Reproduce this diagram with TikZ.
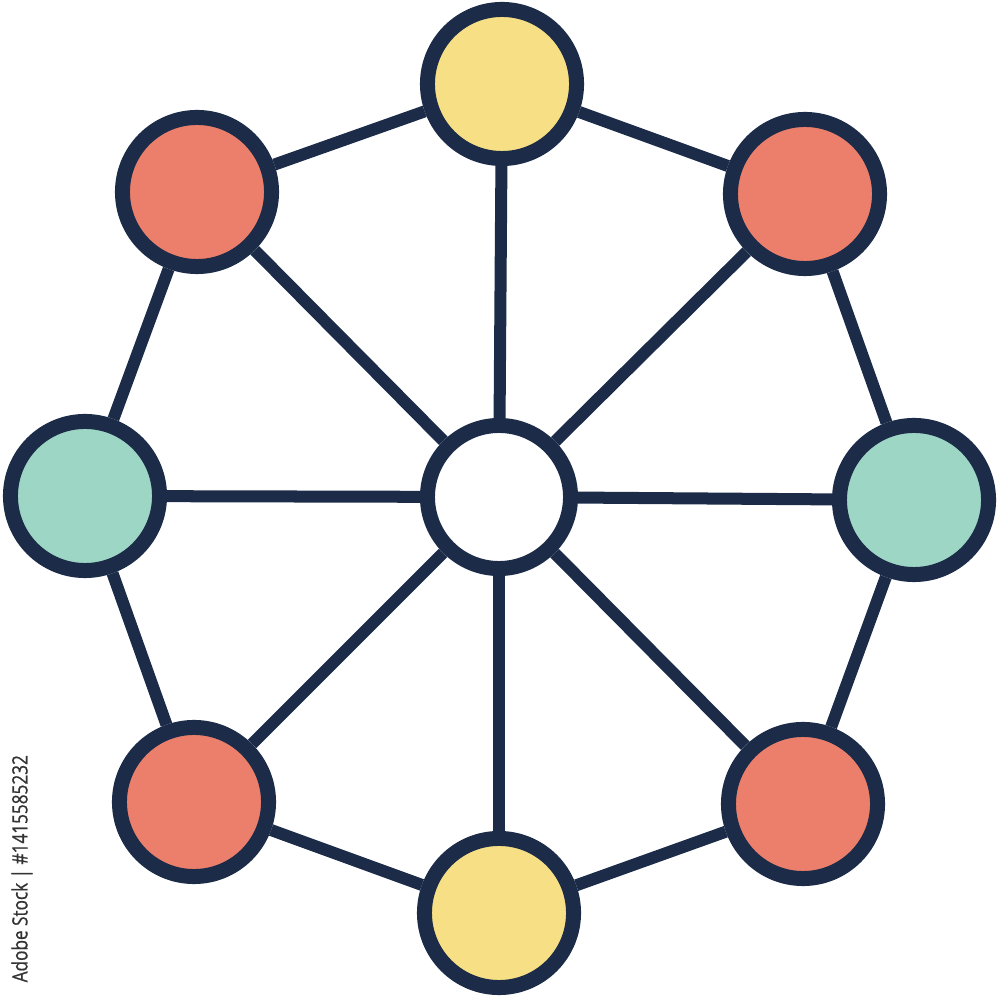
\documentclass[tikz,border=0pt]{standalone}
\usepackage{fontspec}
\newfontfamily\wmfont{Open Sans}[FakeBold=0.8]
\definecolor{navy}{HTML}{1B2B48}
\definecolor{nyellow}{HTML}{F6DF85}
\definecolor{nred}{HTML}{EB7F6B}
\definecolor{ngreen}{HTML}{9ED6C5}
\definecolor{wmgray}{HTML}{333333}
\begin{document}
\begin{tikzpicture}[x=0.01cm,y=-0.01cm,
  hub/.style={circle,draw=navy,line width=0.15cm,minimum size=1.49cm,inner sep=0pt},
  center/.style={circle,draw=navy,fill=white,line width=0.15cm,minimum size=1.43cm,inner sep=0pt},
  link/.style={draw=navy,line width=0.12cm}]
\useasboundingbox (0,0) rectangle (1000,998);
\node[hub,fill=nyellow] (t) at (502,84) {};
\node[hub,fill=nred] (tr) at (805,194) {};
\node[hub,fill=ngreen] (r) at (914,500) {};
\node[hub,fill=nred] (br) at (803,804) {};
\node[hub,fill=nyellow] (b) at (499,913) {};
\node[hub,fill=nred] (bl) at (194,802) {};
\node[hub,fill=ngreen] (l) at (85,496) {};
\node[hub,fill=nred] (tl) at (197,192) {};
\node[center] (c) at (499,497) {};
\foreach \a/\b in {t/tr,tr/r,r/br,br/b,b/bl,bl/l,l/tl,tl/t}
  \draw[link] (\a) -- (\b);
\foreach \n in {t,tr,r,br,b,bl,l,tl}
  \draw[link] (c) -- (\n);
\node[rotate=90,anchor=west,inner sep=0pt,text=wmgray,font=\wmfont\fontsize{6pt}{7pt}\selectfont] (wm) at (22,983) {\resizebox{2.27cm}{\height}{Adobe Stock | \#1415585232}};
\end{tikzpicture}
\end{document}
